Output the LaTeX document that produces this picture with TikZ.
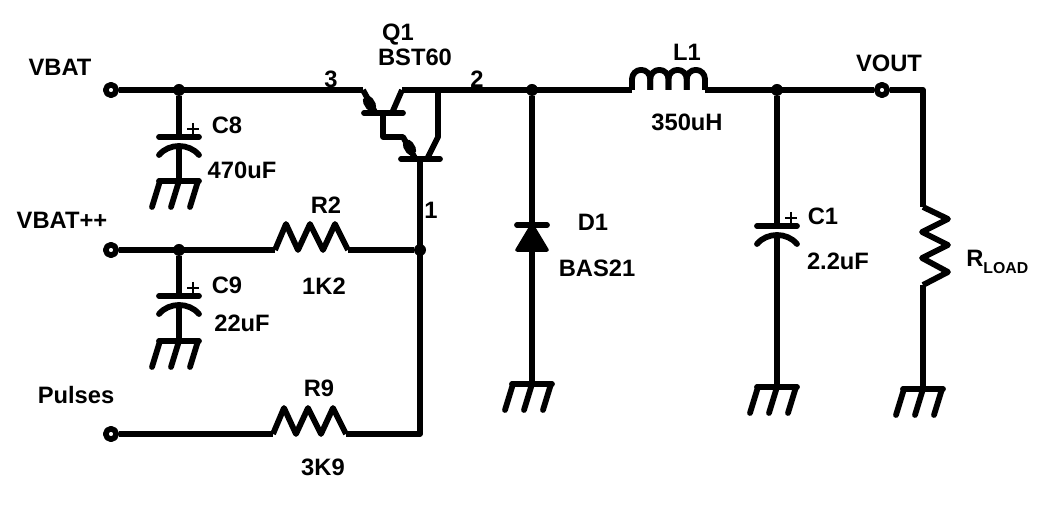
\documentclass[tikz,border=0pt]{standalone}
\usepackage{fontspec}
\setmainfont{Liberation Sans}
\usetikzlibrary{positioning}

\begin{document}
\begin{tikzpicture}[x=0.02cm,y=-0.02cm,line join=round,
    wire/.style={line width=3.3pt},
    term/.style={circle,draw,fill=white,line width=3.2pt,inner sep=0pt,minimum size=0.21cm},
    junc/.style={circle,fill=black,inner sep=0pt,minimum size=0.24cm},
    lab/.style={inner sep=0pt,font=\bfseries\fontsize{13.5}{13.5}\selectfont},
    gndsym/.pic={
        \draw[wire,line cap=round] (-20,0) -- (20,0);
        \foreach \i in {-19,0,19} {
            \draw[wire,line cap=round] (\i,0) -- (\i-8,26);
        }
    },
    capsym/.pic={
        \draw[wire,line cap=round] (-20,0) -- (20,0);
        \draw[wire,line cap=round] (-20,18) .. controls (-10,6) and (10,6) .. (20,18);
        \draw[line width=1.3pt] (8,-8) -- (20,-8);
        \draw[line width=1.3pt] (14,-14) -- (14,-2);
    },
    ressym/.pic={
        \draw[wire] (0,0) -- (11,-26) -- (23,0) -- (35,-26) -- (48,0) -- (60,-26) -- (73,0);
    }]
    \useasboundingbox (0,0) rectangle (1039,509);

    % 端子和节点
    \node[term] (tbat) at (111,90) {};
    \node[term] (tbatpp) at (111,250) {};
    \node[term] (tpulse) at (111,434) {};
    \node[term] (tout) at (882,90) {};
    \node[junc] (jc8) at (179,90) {};
    \node[junc] (jc9) at (179,250) {};
    \node[junc] (jr) at (420,250) {};
    \node[junc] (jd) at (532,90) {};
    \node[junc] (jc1) at (777,90) {};

    % 连接点
    \coordinate (c8a) at (179,137);  \coordinate (c8b) at (179,146);  \coordinate (g8) at (179,181);
    \coordinate (c9a) at (179,296);  \coordinate (c9b) at (179,305);  \coordinate (g9) at (179,341);
    \coordinate (c1a) at (777,226);  \coordinate (c1b) at (777,235);  \coordinate (g1) at (777,387);
    \coordinate (r2a) at (275,250);  \coordinate (r2b) at (348,250);
    \coordinate (r9a) at (273,434);  \coordinate (r9b) at (346,434);
    \coordinate (gd) at (532,384);   \coordinate (gl) at (923,389);
    \coordinate (da) at (532,225);   \coordinate (db) at (532,250);
    \coordinate (la) at (632,90);    \coordinate (lb) at (705,90);
    \coordinate (rla) at (923,207);  \coordinate (rlb) at (923,285);
    \coordinate (corner) at (923,90);
    \coordinate (qc) at (363,90);    \coordinate (qe) at (402,90);
    \coordinate (qb) at (420,159);   \coordinate (bot) at (420,434);

    % 导线
    \draw[wire] (tbat) -- (qc);
    \draw[wire] (qe) -- (la);
    \draw[wire] (lb) -- (tout);
    \draw[wire] (tout) -- (corner) -- (rla);
    \draw[wire] (rlb) -- (gl);
    \draw[wire] (tbatpp) -- (r2a);
    \draw[wire] (r2b) -- (jr);
    \draw[wire] (tpulse) -- (r9a);
    \draw[wire] (r9b) -- (bot) -- (qb);
    \draw[wire] (jc8) -- (c8a);
    \draw[wire] (c8b) -- (g8);
    \draw[wire] (jc9) -- (c9a);
    \draw[wire] (c9b) -- (g9);
    \draw[wire] (jc1) -- (c1a);
    \draw[wire] (c1b) -- (g1);
    \draw[wire] (jd) -- (da);
    \draw[wire] (db) -- (gd);

    % 三极管
    \draw[wire] (qc) -- (375,112);
    \draw[wire,line cap=round] (364,113) -- (403,113);
    \draw[wire] (392,113) -- (qe);
    \draw[wire] (383,113) -- (383,137) -- (403,137) -- (415,158);
    \draw[wire,line cap=round] (401,159) -- (440,159);
    \draw[wire] (427,159) -- (438,137) -- (438,90);
    \draw[line width=6pt,line cap=round] (368,101) -- (371,106);
    \draw[line width=6pt,line cap=round] (408,145) -- (411,150);

    % 元件
    \pic at (c8a) {capsym};
    \pic at (c9a) {capsym};
    \pic at (c1a) {capsym};
    \foreach \g in {g8,g9,gd,g1,gl} {
        \pic at (\g) {gndsym};
    }
    \pic at (r2a) {ressym};
    \pic at (r9a) {ressym};
    \draw[wire] (rla) -- (948,219) -- (922,232) -- (948,245) -- (922,258) -- (948,272) -- (rlb);
    \draw[wire,line cap=round] (517,225) -- (547,225);
    \fill[line width=2pt,draw] (da) -- (547,250) -- (517,250) -- cycle;
    \foreach \i in {0,1,2,3} {
        \draw[wire] (632+\i*18.25,90) -- (632+\i*18.25,79) arc[start angle=180,end angle=360,radius=9.12] -- (632+\i*18.25+18.25,90);
    }

    % 标注
    \node[lab] (nvbat) at (60,67) {VBAT};
    \node[lab] (nvbatpp) at (62,220) {VBAT++};
    \node[lab] (npulse) at (76,395) {Pulses};
    \node[lab] (nq) at (398,35) {Q1};
    \node[lab] (nbst) at (415,57) {BST60};
    \node[lab] (n3) at (331,79) {3};
    \node[lab] (n2) at (477,79) {2};
    \node[lab] (n1) at (431,210) {1};
    \node[lab] (nc8) at (227,125) {C8};
    \node[lab] (nc8v) at (242,170) {470uF};
    \node[lab] (nr2) at (326,205) {R2};
    \node[lab] (nr2v) at (324,286) {1K2};
    \node[lab] (nc9) at (227,285) {C9};
    \node[lab] (nc9v) at (242,323) {22uF};
    \node[lab] (nr9) at (319,388) {R9};
    \node[lab] (nr9v) at (323,467) {3K9};
    \node[lab] (nl) at (687,52) {L1};
    \node[lab] (nlv) at (687,122) {350uH};
    \node[lab] (nd) at (593,222) {D1};
    \node[lab] (ndv) at (597,268) {BAS21};
    \node[lab] (nvout) at (889,63) {VOUT};
    \node[lab] (nc1) at (823,216) {C1};
    \node[lab] (nc1v) at (838,261) {2.2uF};
    \node[lab,anchor=west] (nrl) at (966,262) {R\raisebox{-4pt}{\fontsize{9}{9}\selectfont LOAD}};
\end{tikzpicture}
\end{document}
